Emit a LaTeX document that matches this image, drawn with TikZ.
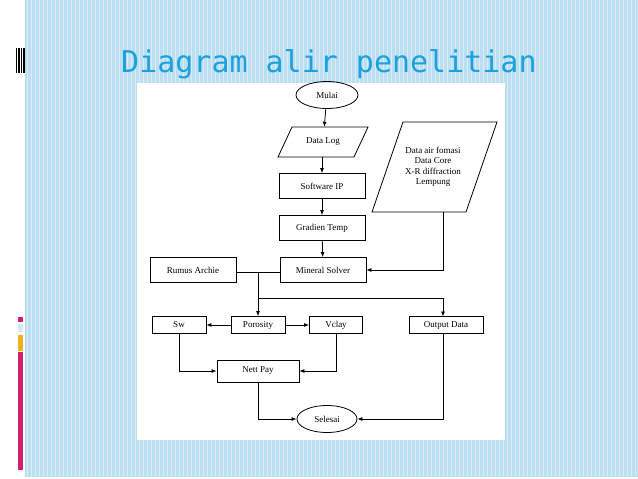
\documentclass[tikz,border=0pt]{standalone}
\usepackage{fontspec}
\setmainfont{Liberation Serif}
\newfontfamily\titlefont{DejaVu Sans Mono}
\usetikzlibrary{shapes.geometric,arrows.meta}
\definecolor{bgblue}{HTML}{BCDEF2}
\definecolor{titleblue}{HTML}{1DA1DD}
\definecolor{mag}{HTML}{D0206E}
\definecolor{gold}{HTML}{F2B21B}
\tikzset{
  box/.style={draw, thick, minimum width=#1, minimum height=25pt, inner sep=0pt, font=\fontsize{9}{10}\selectfont},
  box/.default=86pt,
  txt/.style={inner sep=0pt, font=\fontsize{9}{10}\selectfont, align=center},
  term/.style={draw, thick, ellipse, minimum width=62pt, minimum height=27pt, inner sep=0pt, font=\fontsize{9}{10}\selectfont},
  arr/.style={thick, -{Latex[length=5pt,width=4pt]}},
  ln/.style={thick}
}
\begin{document}
\begin{tikzpicture}[x=1pt,y=-1pt]
\useasboundingbox (0,0) rectangle (638,479);
\fill[white] (0,0) rectangle (638,479);
\fill[bgblue] (25,0) rectangle (638,477);
\foreach \i in {27,31,...,638} \draw[white, opacity=0.45, line width=0.6pt] (\i,0) -- (\i,477);
% left decoration
\foreach \i in {15.5,18,20.5,23} \fill[black] (\i,48) rectangle ++(1.5,25);
\fill[mag] (18,317) rectangle (23,322);
\fill[bgblue!60!white] (18,324) rectangle (23,332);
\fill[gold] (18,335) rectangle (23,351);
\fill[mag] (18,352) rectangle (23,470);
% title
\node[anchor=base west, inner sep=0pt, text=titleblue, font=\titlefont\fontsize{30}{32}\selectfont] (title) at (121,72) {Diagram alir penelitian};
% panel
\fill[white] (137,83) rectangle (505,440);
% nodes
\node[term] (mulai) at (327,95) {Mulai};
\draw[thick] (292,127) -- (368,127) -- (354,157) -- (278,157) -- cycle;
\node[txt, minimum width=70pt, minimum height=30pt] (log) at (323,142) {Data Log};
\node[box] (sip) at (322,186) {Software IP};
\node[box] (grad) at (322,228) {Gradien Temp};
\draw[thick] (403,122) -- (497,122) -- (466,212) -- (372,212) -- cycle;
\node[txt, minimum width=80pt, minimum height=90pt] (air) at (435,167) {};
\node[txt, font=\fontsize{9}{10.5}\selectfont] (airtxt) at (433,167) {Data air fomasi\\Data Core\\X-R diffraction\\Lempung};
\node[box] (min) at (323,270) {Mineral Solver};
\node[box] (archie) at (193,270) {Rumus Archie};
\node[box=54pt, minimum height=17pt] (sw) at (179,325) {Sw};
\node[box=54pt, minimum height=17pt] (por) at (258,325) {Porosity};
\node[box=53pt, minimum height=17pt] (vclay) at (336,325) {Vclay};
\node[box=74pt, minimum height=17pt] (out) at (446,325) {Output Data};
\node[box=82pt, minimum height=22pt] (nett) at (258,371) {Nett Pay};
\node[term, minimum width=60pt] (sel) at (327,419) {Selesai};
\coordinate (j1) at (258,272);
\coordinate (j2) at (258,298);
\coordinate (ca) at (443,212);
\coordinate (co) at (443,316.5);
\coordinate (cob) at (443,333.5);
% connectors
\draw[arr] (mulai) -- (log);
\draw[arr] (log.south -| sip) -- (sip);
\draw[arr] (sip) -- (grad);
\draw[arr] (grad) -- (min);
\draw[arr] (ca) |- (min.east);
\draw[ln] (archie.east |- j1) -- (min.west |- j1);
\draw[arr] (j1) -- (por);
\draw[arr] (j2) -| (co);
\draw[arr] (por) -- (sw);
\draw[arr] (por) -- (vclay);
\draw[arr] (sw) |- (nett);
\draw[arr] (vclay) |- (nett);
\draw[arr] (nett) |- (sel);
\draw[arr] (cob) |- (sel);
\end{tikzpicture}
\end{document}
